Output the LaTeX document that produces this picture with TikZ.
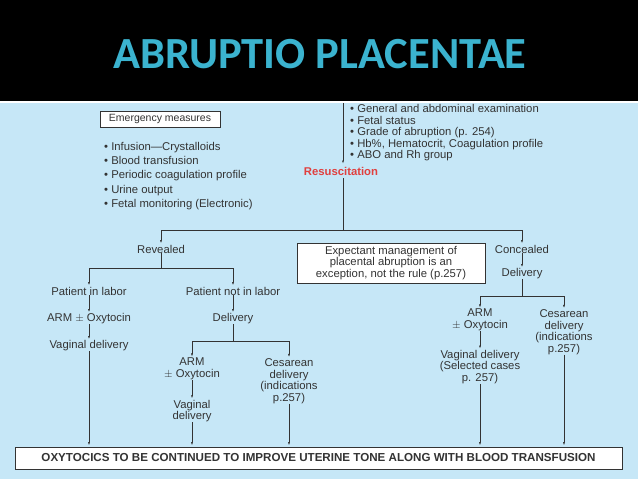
\documentclass[tikz,border=0pt]{standalone}
\usepackage{fontspec}
\setmainfont{Liberation Sans}
\newfontfamily\titlefont{Carlito}
\usetikzlibrary{arrows.meta}
\definecolor{bgblue}{HTML}{C6E7F7}
\definecolor{ttl}{HTML}{3BB3CF}
\definecolor{txt}{HTML}{333333}
\definecolor{resus}{HTML}{E0403F}
\tikzset{
  lbl/.style={inner sep=0pt,align=center,font=\fontsize{11.3}{11.5}\selectfont,text=txt},
  bul/.style={inner sep=0pt,anchor=west,align=left,font=\fontsize{11.3}{14.2}\selectfont,text=txt},
  wbox/.style={draw=txt,fill=white,line width=0.6pt,inner sep=0pt},
  arr/.style={draw=txt,line width=0.5pt,shorten >=1.5pt,-{Latex[length=3pt,width=2pt]}},
  ln/.style={draw=txt,line width=0.5pt}
}
\begin{document}
\begin{tikzpicture}[x=1pt,y=-1pt]
\useasboundingbox (0,0) rectangle (638,479);
\fill[black] (0,0) rectangle (638,101);
\fill[white] (0,101) rectangle (638,103);
\fill[bgblue] (0,103) rectangle (638,479);
\node[text=ttl,font=\titlefont\bfseries\fontsize{44.5}{46}\selectfont] (title) at (320,54) {ABRUPTIO PLACENTAE};

% left
\node[wbox,minimum width=120pt,minimum height=16pt,lbl,font=\fontsize{10.5}{11}\selectfont] (em) at (160,119) {Emergency measures};
\node[bul] (lb) at (104,176) {• Infusion—Crystalloids\\ • Blood transfusion\\ • Periodic coagulation profile\\ • Urine output\\ • Fetal monitoring (Electronic)};
\node[bul,font=\fontsize{11.3}{11.5}\selectfont] (rb) at (350,133) {• General and abdominal examination\\ • Fetal status\\ • Grade of abruption (p. 254)\\ • Hb\%, Hematocrit, Coagulation profile\\ • ABO and Rh group};

\coordinate (top) at (343,103);
\node[lbl,text=resus,font=\bfseries\fontsize{11.3}{12}\selectfont] (res) at (341,171) {Resuscitation};
\draw[arr] (top) -- (343,165);
\coordinate (split) at (343,230);
\draw[ln] (343,178) -- (split);
\node[lbl] (rev) at (161,249) {Revealed};
\node[lbl] (con) at (522,249) {Concealed};
\draw[arr] (split) -| (rev.north);
\draw[arr] (split) -| (con.north);

\node[wbox,lbl,minimum width=188pt,minimum height=40pt] (exp) at (391,263) {Expectant management of\\ placental abruption is an\\ exception, not the rule (p.257)};

\coordinate (rsplit) at (161,268);
\draw[ln] (rev.south) -- (rsplit);
\node[lbl] (pil) at (89,291) {Patient in labor};
\node[lbl] (pnl) at (233,291) {Patient not in labor};
\draw[arr] (rsplit) -| (pil.north);
\draw[arr] (rsplit) -| (pnl.north);

\node[lbl] (arm1) at (89,319) {ARM $\pm$ Oxytocin};
\node[lbl] (vd1) at (89,346) {Vaginal delivery};
\draw[arr] (pil.south) -- (arm1.north);
\draw[arr] (arm1.south) -- (vd1.north);

\node[lbl] (del1) at (233,319) {Delivery};
\draw[arr] (pnl.south) -- (del1.north);
\coordinate (dsplit) at (233,341);
\draw[ln] (del1.south) -- (dsplit);
\node[lbl] (arm2) at (192,369) {ARM\\ $\pm$ Oxytocin};
\node[lbl] (ces2) at (289,381) {Cesarean\\ delivery\\ (indications\\ p.257)};
\draw[arr] (dsplit) -| (arm2.north);
\draw[arr] (dsplit) -| (ces2.north);
\node[lbl] (vd2) at (192,411) {Vaginal\\ delivery};
\draw[arr] (arm2.south) -- (vd2.north);

\node[lbl] (del2) at (522,274) {Delivery};
\draw[arr] (con.south) -- (del2.north);
\coordinate (csplit) at (522,296);
\draw[ln] (del2.south) -- (csplit);
\node[lbl] (arm3) at (480,320) {ARM\\ $\pm$ Oxytocin};
\node[lbl] (ces3) at (564,332) {Cesarean\\ delivery\\ (indications\\ p.257)};
\draw[arr] (csplit) -| (arm3.north);
\draw[arr] (csplit) -| (ces3.north);
\node[lbl] (vd3) at (480,367) {Vaginal delivery\\ (Selected cases\\ p. 257)};
\draw[arr] (arm3.south) -- (vd3.north);

\node[wbox,lbl,font=\bfseries\fontsize{11.6}{12}\selectfont,minimum width=607pt,minimum height=22pt] (fin) at (318.5,458) {OXYTOCICS TO BE CONTINUED TO IMPROVE UTERINE TONE ALONG WITH BLOOD TRANSFUSION};
\draw[arr] (vd1.south) -- (vd1.south |- fin.north);
\draw[arr] (vd2.south) -- (vd2.south |- fin.north);
\draw[arr] (ces2.south) -- (ces2.south |- fin.north);
\draw[arr] (vd3.south) -- (vd3.south |- fin.north);
\draw[arr] (ces3.south) -- (ces3.south |- fin.north);
\end{tikzpicture}
\end{document}
